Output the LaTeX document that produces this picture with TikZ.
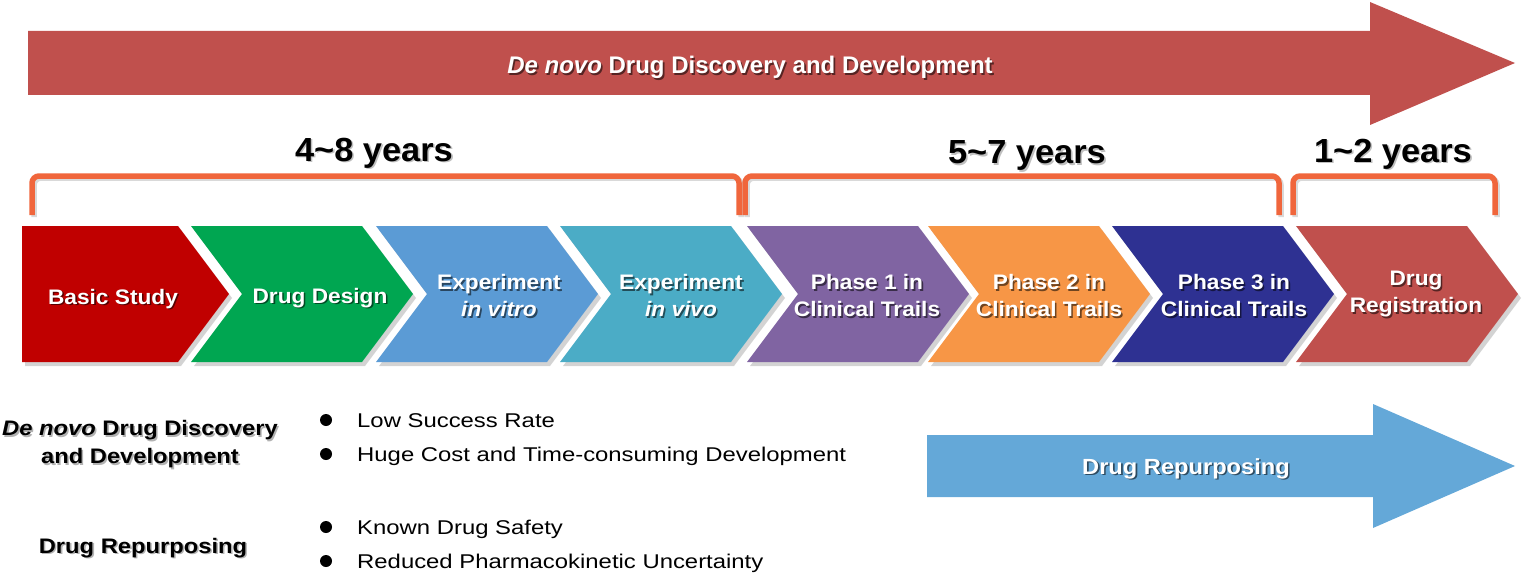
\documentclass[tikz,border=0pt]{standalone}
\usepackage{fontspec}
\setmainfont{Liberation Sans}
\newfontfamily\fTop{Liberation Sans}
\newfontfamily\fYr{Liberation Sans}[FakeStretch=1.03]
\newfontfamily\fChev{Liberation Sans}[FakeStretch=1.08]
\newfontfamily\fLab{Liberation Sans}[FakeStretch=1.13]
\newfontfamily\fReg{Liberation Sans}[FakeStretch=1.2]
\usetikzlibrary{shadows}
\definecolor{cRedA}{HTML}{C00000}
\definecolor{cGreen}{HTML}{00A651}
\definecolor{cBlueA}{HTML}{5B9BD5}
\definecolor{cCyan}{HTML}{4BACC6}
\definecolor{cPurple}{HTML}{8064A2}
\definecolor{cOrange}{HTML}{F79646}
\definecolor{cNavy}{HTML}{2E3192}
\definecolor{cRedB}{HTML}{C0504D}
\definecolor{cRepBlue}{HTML}{64A8D8}
\definecolor{cBrk}{HTML}{F0663C}
\newcommand\shtx[2]{\makebox[0pt][l]{\kern1.6pt\raisebox{-1.6pt}{\color{#1}#2}}#2}
\newcommand\mychev[2]{\fill[#2, chevshadow] (#1,226) -- ++(171,0) -- ++(51,68) -- ++(-51,68) -- ++(-171,0) -- ++(51,-68) -- cycle;}
\newcommand\mybrk[2]{%
  \draw[brkshadow] (#1+2,217) |- (#2+2,178) -- (#2+2,217);
  \draw[brk] (#1,215) |- (#2,176) -- (#2,215);}
\tikzset{
  chevshadow/.style={drop shadow={opacity=0.35, shadow xshift=3pt, shadow yshift=-4pt}},
  brk/.style={draw=cBrk, line width=5.5pt, rounded corners=7pt},
  brkshadow/.style={draw=black, opacity=0.15, line width=5.5pt, rounded corners=7pt},
  chevtxt/.style={font=\fChev\bfseries\fontsize{21}{27}\selectfont, text=white, align=center, inner sep=0pt},
  yrtxt/.style={font=\fYr\bfseries\fontsize{33.4}{40}\selectfont, inner sep=0pt, anchor=base},
  labtxt/.style={font=\fLab\bfseries\fontsize{21}{28}\selectfont, align=center, inner sep=0pt},
  regtxt/.style={font=\fReg\fontsize{19.9}{24}\selectfont, inner sep=0pt, anchor=base west},
  bul/.style={circle, fill=black, minimum size=12pt, inner sep=0pt},
}
\begin{document}
\begin{tikzpicture}[x=1pt, y=-1pt]
\path[use as bounding box] (0,0) rectangle (1528,575);
% top arrow
\fill[cRedB] (28,31) -- (1370,31) -- (1370,2) -- (1515,63) -- (1370,125) -- (1370,95) -- (28,95) -- cycle;
\node[font=\fTop\bfseries\fontsize{24}{28}\selectfont, text=white, inner sep=0pt, anchor=base] (toptxt) at (750,73.5)
  {\shtx{cRedB!45!black}{\textit{De novo} Drug Discovery and Development}};
% years
\node[yrtxt] (y1) at (374,161) {\shtx{black!25}{4\textasciitilde 8 years}};
\node[yrtxt] (y2) at (1027,164) {\shtx{black!25}{5\textasciitilde 7 years}};
\node[yrtxt] (y3) at (1393,162) {\shtx{black!25}{1\textasciitilde 2 years}};
% brackets
\mybrk{32}{739}
\mybrk{745}{1279}
\mybrk{1293}{1495}
% chevrons
\fill[cRedA, chevshadow] (22,226) -- (178,226) -- (229,294) -- (178,362) -- (22,362) -- cycle;
\mychev{191}{cGreen}
\mychev{376}{cBlueA}
\mychev{560}{cCyan}
\mychev{747}{cPurple}
\mychev{928}{cOrange}
\mychev{1112}{cNavy}
\mychev{1296}{cRedB}
\node[chevtxt, anchor=base] (s1) at (113,304) {\shtx{cRedA!45!black}{Basic Study}};
\node[chevtxt, anchor=base] (s2) at (320,303) {\shtx{cGreen!45!black}{Drug Design}};
\node[chevtxt] (s3) at (499,296.5) {\shtx{cBlueA!45!black}{Experiment}\\\shtx{cBlueA!45!black}{\textit{in vitro}}};
\node[chevtxt] (s4) at (681,296.5) {\shtx{cCyan!45!black}{Experiment}\\\shtx{cCyan!45!black}{\textit{in vivo}}};
\node[chevtxt] (s5) at (867,296.5) {\shtx{cPurple!45!black}{Phase 1 in}\\\shtx{cPurple!45!black}{Clinical Trails}};
\node[chevtxt] (s6) at (1049,296.5) {\shtx{cOrange!45!black}{Phase 2 in}\\\shtx{cOrange!45!black}{Clinical Trails}};
\node[chevtxt] (s7) at (1234,296.5) {\shtx{cNavy!45!black}{Phase 3 in}\\\shtx{cNavy!45!black}{Clinical Trails}};
\node[chevtxt] (s8) at (1416,294.7) {\shtx{cRedB!45!black}{Drug}\\\shtx{cRedB!45!black}{Registration}};
% repurposing arrow
\fill[cRepBlue] (927,435) -- (1373,435) -- (1373,404) -- (1515,466) -- (1373,528) -- (1373,497) -- (927,497) -- cycle;
\node[chevtxt, font=\fChev\bfseries\fontsize{21.9}{26}\selectfont, anchor=base] (reptxt) at (1186,474)
  {\shtx{cRepBlue!45!black}{Drug Repurposing}};
% left labels
\node[labtxt] (l1) at (140,445) {\shtx{black!30}{\textit{De novo} Drug Discovery}\\\shtx{black!30}{and Development}};
\node[labtxt, anchor=base] (l2) at (143,553) {\shtx{black!30}{Drug Repurposing}};
% bullets
\node[bul] (b1) at (326,420) {};
\node[bul] (b2) at (326,454) {};
\node[bul] (b3) at (326,527) {};
\node[bul] (b4) at (326,561) {};
\node[regtxt] (r1) at (357,427) {Low Success Rate};
\node[regtxt] (r2) at (357,461) {Huge Cost and Time-consuming Development};
\node[regtxt] (r3) at (357,534) {Known Drug Safety};
\node[regtxt] (r4) at (357,568) {Reduced Pharmacokinetic Uncertainty};
\end{tikzpicture}
\end{document}
